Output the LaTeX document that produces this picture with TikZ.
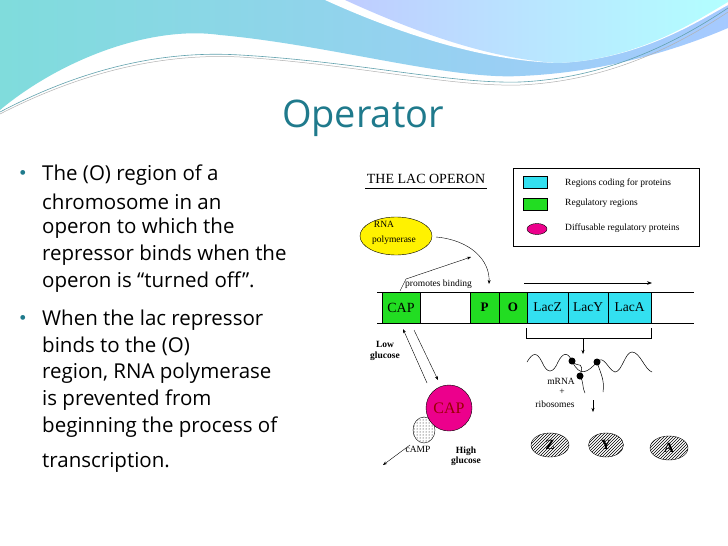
\documentclass[tikz,border=0pt]{standalone}
\usepackage{fontspec}
\setmainfont{Liberation Serif}
\newfontfamily\slidefont{Open Sans}
\usetikzlibrary{patterns,arrows.meta,shapes.geometric}
\definecolor{teal1}{HTML}{1F7A8C}
\definecolor{cyanb}{HTML}{33E0F0}
\definecolor{greenb}{HTML}{22DD22}
\tikzset{
 bul/.style={anchor=west,font=\slidefont\fontsize{20.5}{20}\selectfont,inner sep=0},
 sm/.style={font=\fontsize{9.5}{10}\selectfont,inner sep=0},
 smb/.style={font=\bfseries\fontsize{9.5}{10.5}\selectfont,inner sep=0,align=center},
 gbox/.style={draw,fill=greenb,minimum height=31pt,inner sep=0,font=\fontsize{14}{14}\selectfont},
 cbox/.style={draw,fill=cyanb,minimum height=31pt,inner sep=0,font=\fontsize{13.5}{14}\selectfont},
 prot/.style={draw,ellipse,pattern=north east lines,minimum width=38pt,minimum height=24pt,inner sep=0,font=\bfseries\fontsize{14}{14}\selectfont},
 thin/.style={-{Stealth[length=4pt]},line width=0.4pt}
}
\begin{document}
\begin{tikzpicture}[x=1pt,y=-1pt]
\useasboundingbox (0,0) rectangle (728,546);
\fill[white] (0,0) rectangle (728,546);
% header waves
\shade[left color=cyan!45!teal!50,right color=cyan!40!blue!35] (0,0) -- (0,110) .. controls (60,60) and (150,25) .. (220,35) .. controls (330,45) and (450,80) .. (520,76) .. controls (620,72) and (700,40) .. (728,28) -- (728,0) -- cycle;
\fill[white] (325,0) .. controls (380,25) and (470,60) .. (557,63) .. controls (640,60) and (700,20) .. (728,5) -- (728,0) -- cycle;
\shade[left color=cyan!20!blue!25,right color=cyan!30] (345,0) .. controls (400,25) and (480,58) .. (557,63) .. controls (640,60) and (700,18) .. (728,2) -- (728,0) -- cycle;
\draw[teal1!70,line width=0.6pt] (0,112) .. controls (80,70) and (160,50) .. (240,55) .. controls (360,62) and (450,84) .. (520,82) .. controls (610,78) and (680,40) .. (728,8);
\draw[gray!60,line width=0.5pt] (0,114) .. controls (80,73) and (160,53) .. (240,57) .. controls (360,65) and (450,87) .. (520,85) .. controls (610,81) and (680,44) .. (728,12);
% title
\node[font=\slidefont\fontsize{38}{38}\selectfont,text=teal1] (title) at (363,118) {Operator};
% bullets
\node[text=teal1,font=\fontsize{20}{20}\selectfont] (b1) at (23,175) {\textbullet};
\node[text=teal1,font=\fontsize{20}{20}\selectfont] (b2) at (23,320) {\textbullet};
\node[bul] (l1) at (42,175) {The (O) region of a};
\node[bul] (l2) at (42,202) {chromosome in an};
\node[bul] (l3) at (42,228) {operon to which the};
\node[bul] (l4) at (42,255) {repressor binds when the};
\node[bul] (l5) at (42,282) {operon is “turned off”.};
\node[bul] (m1) at (42,320) {When the lac repressor};
\node[bul] (m2) at (42,346) {binds to the (O)};
\node[bul] (m3) at (42,373) {region, RNA polymerase};
\node[bul] (m4) at (42,400) {is prevented from};
\node[bul] (m5) at (42,427) {beginning the process of};
\node[bul] (m6) at (42,462) {transcription.};
% diagram
\node[font=\fontsize{14}{14}\selectfont,inner sep=0] (lac) at (426,179) {THE LAC OPERON};
\draw (365,188) -- (487,188);
\node[draw,line width=0.8pt,minimum width=186pt,minimum height=78pt] (leg) at (606,207) {};
\node[draw,fill=cyanb,minimum width=24pt,minimum height=12pt,inner sep=0] (lc) at (535,182) {};
\node[draw,fill=greenb,minimum width=24pt,minimum height=12pt,inner sep=0] (lg) at (535,204) {};
\node[draw,ellipse,fill=magenta,minimum width=20pt,minimum height=11pt,inner sep=0] (lm) at (537,229) {};
\node[sm,anchor=west] (t1) at (565,183) {Regions coding for proteins};
\node[sm,anchor=west] (t2) at (565,203) {Regulatory regions};
\node[sm,anchor=west] (t3) at (565,228) {Diffusable regulatory proteins};
\node[draw,ellipse,fill=yellow,minimum width=72pt,minimum height=38pt,inner sep=0] (rna) at (396,236) {};
\node[sm] (rt1) at (384,224) {RNA};
\node[sm] (rt2) at (394,240) {polymerase};
% DNA
\draw (377,292) -- (694,292);
\draw (377,323) -- (694,323);
\node[gbox,minimum width=38pt] (cap) at (401,307.5) {CAP};
\node[draw,minimum width=50pt,minimum height=31pt,inner sep=0] (gap) at (445,307.5) {};
\node[gbox,minimum width=29pt,font=\bfseries\fontsize{13}{13}\selectfont] (p) at (484.5,307.5) {P};
\node[gbox,minimum width=28pt,font=\bfseries\fontsize{13}{13}\selectfont] (o) at (513,307.5) {O};
\node[cbox,minimum width=41pt] (z) at (547.5,307.5) {LacZ};
\node[cbox,minimum width=40pt] (y) at (588,307.5) {LacY};
\node[cbox,minimum width=43pt] (a) at (629.5,307.5) {LacA};
\coordinate (ta) at (524,283); \coordinate (tb) at (652,283);
\draw[-{Stealth[length=5pt]},line width=0.8pt] (ta) -- (tb);
\coordinate (rs) at (436,237); \coordinate (re) at (489,284);
\draw[thin] (rs) .. controls (470,240) and (490,260) .. (re);
\coordinate (pb1) at (400,291); \coordinate (pb2) at (406,279); \coordinate (pb3) at (471,257);
\draw[thin] (pb1) -- (pb2) -- (pb3);
\node[sm,anchor=west] (prom) at (405,284.5) {promotes binding};
% bracket
\draw (526,328) -- (526,338) -- (651,338) -- (651,328);
\coordinate (bm) at (583,338); \coordinate (bn) at (583,354);
\draw[thin] (bm) -- (bn);
% left arrows
\node[smb] (low) at (385,351) {Low\\glucose};
\coordinate (c1) at (427,383); \coordinate (c2) at (403,329);
\coordinate (c3) at (414,330); \coordinate (c4) at (438,380);
\draw[thin] (c1) -- (c2);
\draw[thin] (c3) -- (c4);
\node[draw,ellipse,pattern=dots,minimum width=22pt,minimum height=26pt,inner sep=0] (camp) at (424,430) {};
\node[draw,circle,fill=magenta,minimum size=46pt,inner sep=0,font=\fontsize{16}{16}\selectfont,text=red!60!black] (capc) at (449,408) {CAP};
\node[sm] (campt) at (418,449) {cAMP};
\node[smb] (high) at (466,456) {High\\glucose};
\coordinate (d1) at (410,445); \coordinate (d2) at (383,465);
\draw[thin] (d1) -- (d2);
% mRNA
\draw[line width=0.5pt] (527,362) .. controls (533,352) and (537,352) .. (542,362) .. controls (547,374) and (553,374) .. (558,362) .. controls (563,352) and (568,352) .. (572,361) .. controls (580,378) and (588,372) .. (597,362) .. controls (604,354) and (608,370) .. (615,372) .. controls (622,372) and (625,352) .. (632,352) .. controls (640,352) and (645,370) .. (652,372);
\draw[line width=0.5pt] (580,376) .. controls (584,382) and (582,388) .. (585,393);
\draw[line width=0.5pt] (597,362) .. controls (600,372) and (605,380) .. (603,392);
\draw[line width=0.5pt] (573,362) .. controls (578,368) and (585,360) .. (580,376);
\fill (572,361) circle (3.5pt);
\fill (597,362) circle (3.5pt);
\fill (580,376) circle (3.5pt);
\node[sm] (mr) at (561,381) {mRNA};
\node[sm] (pl) at (562,392) {+};
\node[sm] (rib) at (555,404) {ribosomes};
\coordinate (r1) at (593,400); \coordinate (r2) at (593,412);
\draw[thin] (r1) -- (r2);
\node[prot] (pz) at (550,445) {Z};
\node[prot,minimum width=35pt] (py) at (606,445) {Y};
\node[prot] (pa) at (669,448) {A};
\end{tikzpicture}
\end{document}
